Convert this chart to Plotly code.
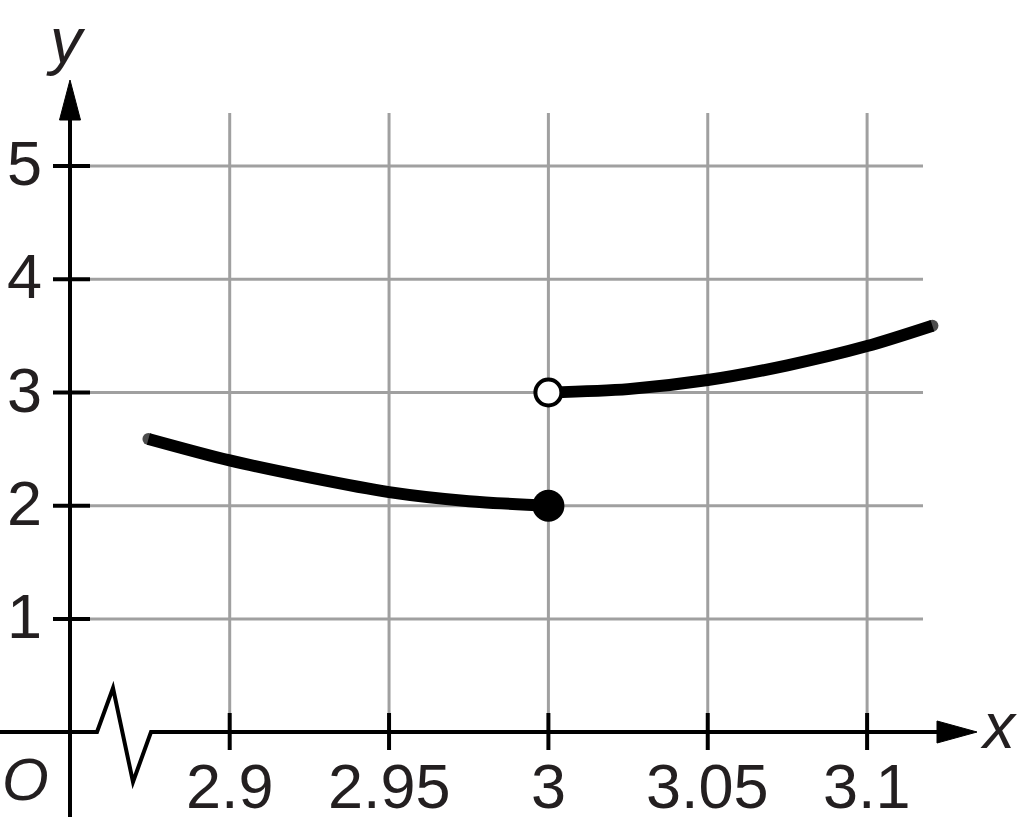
import plotly.graph_objects as go

# tick values and labels
x_ticks = [2.9, 2.95, 3.0, 3.05, 3.1]
x_tick_labels = ["2.9", "2.95", "3", "3.05", "3.1"]
y_ticks = [1, 2, 3, 4, 5]
y_tick_labels = ["1", "2", "3", "4", "5"]

# left piece (ends in a closed dot)
left_x = [2.8745, 2.9, 2.925, 2.95, 2.975, 3.0]
left_y = [2.59, 2.40, 2.25, 2.12, 2.04, 2.0]

# right piece (starts at an open dot)
right_x = [3.0, 3.025, 3.05, 3.075, 3.1, 3.1205]
right_y = [3.0, 3.03, 3.11, 3.24, 3.41, 3.59]

closed_pt = (3.0, 2.0)
open_pt = (3.0, 3.0)

W, H = 1018, 824


# pixel -> data helpers (the plot area fills the whole page)
def xd(px):
    return 3 + (px - 548.4) / 3187


def yd(py):
    return (732.2 - py) / 113.23


GRID = "#a0a0a0"
FONT = "Liberation Sans"
INK = "#231f20"
CURVE_W = 12

fig = go.Figure()

fig.add_trace(go.Scatter(x=left_x, y=left_y, mode="lines+markers",
                         line=dict(color="black", width=CURVE_W, shape="spline", smoothing=0.8),
                         marker=dict(color="black", line=dict(width=0),
                                     size=[CURVE_W] + [0] * (len(left_x) - 1)),
                         hoverinfo="skip", showlegend=False))
fig.add_trace(go.Scatter(x=right_x, y=right_y, mode="lines+markers",
                         line=dict(color="black", width=CURVE_W, shape="spline", smoothing=0.8),
                         marker=dict(color="black", line=dict(width=0),
                                     size=[0] * (len(right_x) - 1) + [CURVE_W]),
                         hoverinfo="skip", showlegend=False))

fig.add_trace(go.Scatter(x=[closed_pt[0]], y=[closed_pt[1]], mode="markers",
                         marker=dict(color="black", size=32, line=dict(width=0)),
                         hoverinfo="skip", showlegend=False))
fig.add_trace(go.Scatter(x=[open_pt[0]], y=[open_pt[1]], mode="markers",
                         marker=dict(color="white", size=26, line=dict(color="black", width=4)),
                         hoverinfo="skip", showlegend=False))

shapes = []
# grid
for xv in x_ticks:
    shapes.append(dict(type="line", x0=xv, x1=xv, y0=yd(713), y1=yd(113),
                       line=dict(color=GRID, width=3), layer="below"))
for yv in y_ticks:
    shapes.append(dict(type="line", x0=xd(90), x1=xd(923), y0=yv, y1=yv,
                       line=dict(color=GRID, width=3), layer="below"))

# tick marks
for xv in x_ticks:
    shapes.append(dict(type="line", x0=xv, x1=xv, y0=yd(713), y1=yd(750),
                       line=dict(color="black", width=4)))
for yv in y_ticks:
    shapes.append(dict(type="line", x0=xd(53), x1=xd(90), y0=yv, y1=yv,
                       line=dict(color="black", width=4)))

# x axis with break
pts = [(0, 732), (97, 732), (113, 688), (133, 782), (151, 732), (940, 732)]
path = "M " + " L ".join(f"{xd(a)},{yd(b)}" for a, b in pts)
shapes.append(dict(type="path", path=path, line=dict(color="black", width=4)))
shapes.append(dict(type="path",
                   path=f"M {xd(937)},{yd(721)} L {xd(977)},{yd(732)} L {xd(937)},{yd(743)} Z",
                   fillcolor="black", line=dict(color="black", width=1)))

# y axis
shapes.append(dict(type="line", x0=xd(70), x1=xd(70), y0=yd(817), y1=yd(115),
                   line=dict(color="black", width=4)))
shapes.append(dict(type="path",
                   path=f"M {xd(59.5)},{yd(120)} L {xd(70)},{yd(80)} L {xd(80.5)},{yd(120)} Z",
                   fillcolor="black", line=dict(color="black", width=1)))

annotations = []
for xv, lab in zip(x_ticks, x_tick_labels):
    annotations.append(dict(x=xv, y=yd(786), text=lab, showarrow=False,
                            xanchor="center", yanchor="middle",
                            font=dict(family=FONT, size=63, color=INK)))
for yv, lab in zip(y_ticks, y_tick_labels):
    annotations.append(dict(x=xd(44), y=yv, text=lab, showarrow=False,
                            xanchor="right", yanchor="middle", yshift=3,
                            font=dict(family=FONT, size=63, color=INK)))

annotations.append(dict(x=xd(66), y=yd(41), text="<i>y</i>", showarrow=False,
                        xanchor="center", yanchor="middle",
                        font=dict(family=FONT, size=64, color=INK)))
annotations.append(dict(x=xd(998), y=yd(726), text="<i>x</i>", showarrow=False,
                        xanchor="center", yanchor="middle",
                        font=dict(family=FONT, size=64, color=INK)))
annotations.append(dict(x=xd(25), y=yd(779), text="<i>O</i>", showarrow=False,
                        xanchor="center", yanchor="middle",
                        font=dict(family=FONT, size=60, color=INK)))

fig.update_layout(
    width=W, height=H,
    margin=dict(l=0, r=0, t=0, b=0),
    plot_bgcolor="white", paper_bgcolor="white",
    shapes=shapes, annotations=annotations,
    xaxis=dict(range=[xd(0), xd(W)], showgrid=False, zeroline=False,
               showticklabels=False, showline=False, ticks=""),
    yaxis=dict(range=[yd(H), yd(0)], showgrid=False, zeroline=False,
               showticklabels=False, showline=False, ticks=""),
)

# the page has a default 8px body margin; drop it so the figure sits at 0,0
fig.write_html("out.html", config={"displayModeBar": False},
               post_script="document.body.style.margin = '0';")
